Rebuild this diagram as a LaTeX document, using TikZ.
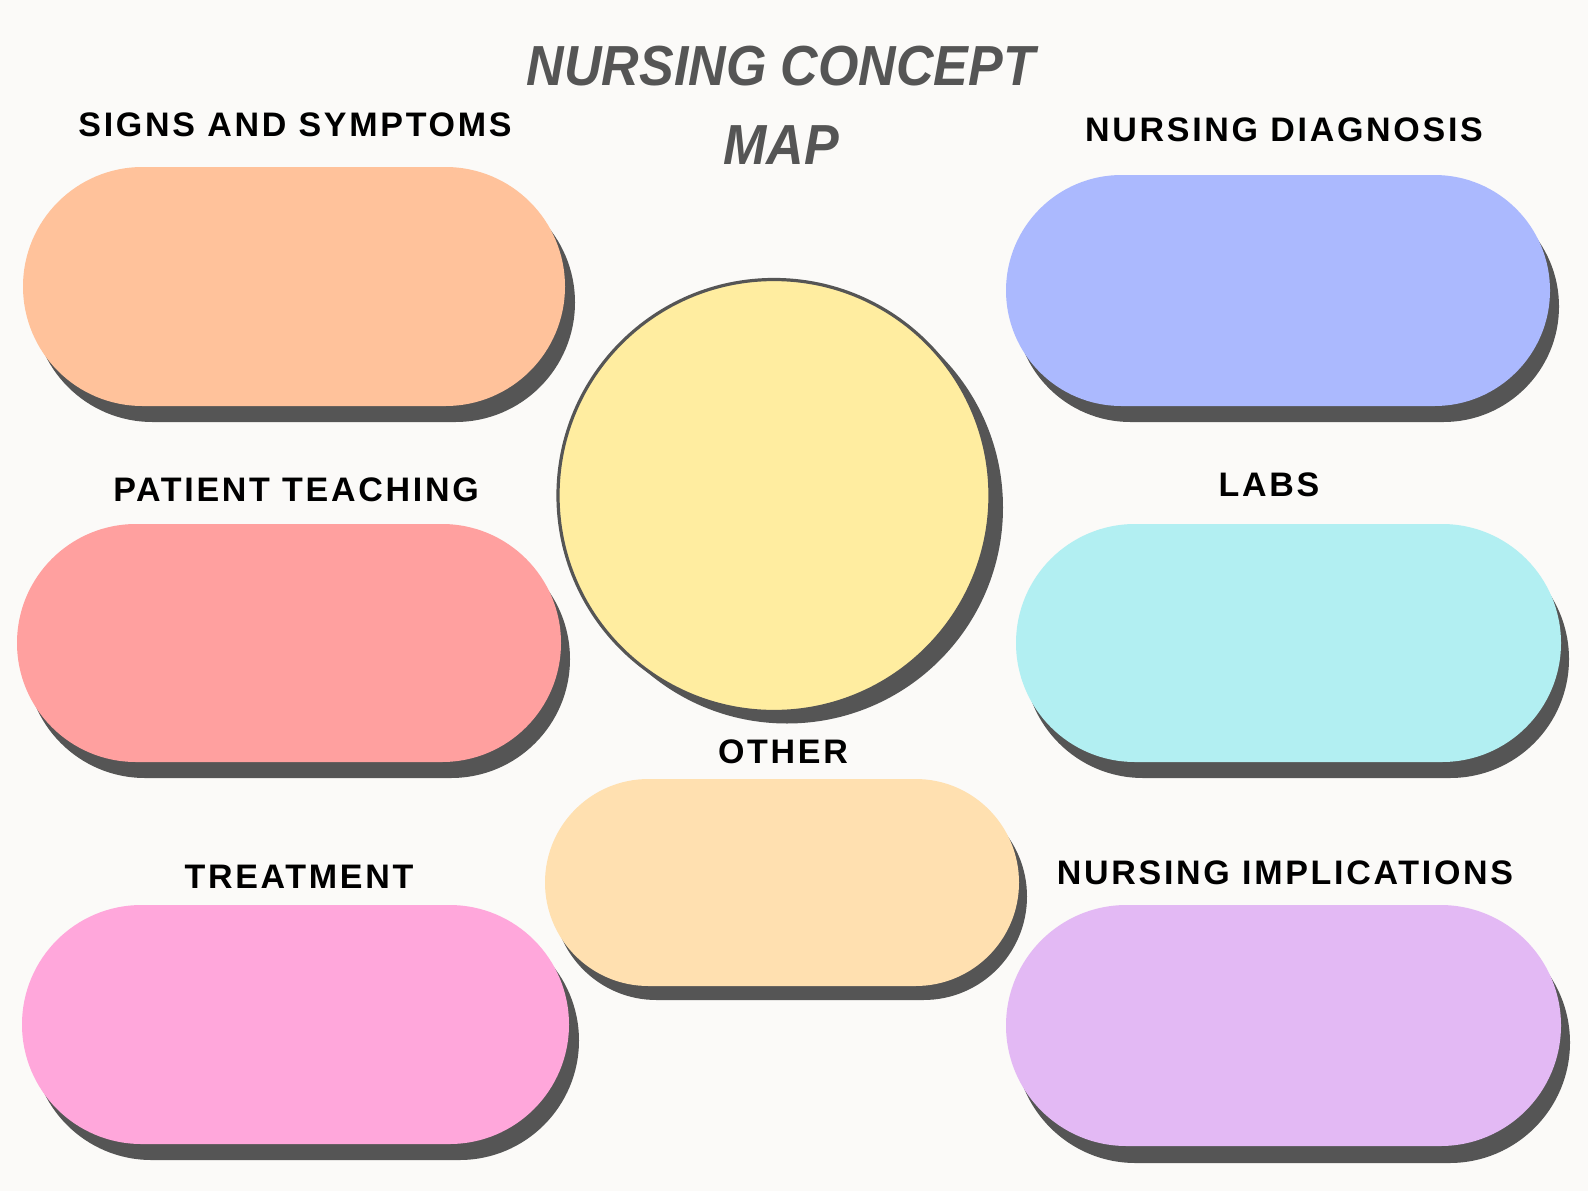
\documentclass[tikz,border=0pt]{standalone}
\usepackage{fontspec}
\setmainfont{Liberation Sans}
\newfontfamily\labelfont[LetterSpace=8.0]{Liberation Sans}
\usetikzlibrary{shapes.misc,shadows}
\definecolor{bgc}{HTML}{FBFAF8}
\definecolor{shgray}{HTML}{555555}
\definecolor{cpeach}{HTML}{FFC29B}
\definecolor{cblue}{HTML}{ABB9FE}
\definecolor{cred}{HTML}{FFA09F}
\definecolor{ccyan}{HTML}{B2EFF2}
\definecolor{cpink}{HTML}{FFA7DB}
\definecolor{cpurple}{HTML}{E3B9F4}
\definecolor{cother}{HTML}{FFE0B0}
\definecolor{cyellow}{HTML}{FFEDA0}
\tikzset{
  pill/.style={rounded rectangle, draw=none, inner sep=0pt, outer sep=0pt},
  shad/.style 2 args={drop shadow={shadow xshift=#1pt, shadow yshift=-#2pt, fill=shgray, opacity=1}},
  lbl/.style={anchor=base, inner sep=0pt, font=\labelfont\bfseries\fontsize{34}{36}\selectfont, text=black},
  ttl/.style={anchor=base, inner sep=0pt, font=\bfseries\itshape\fontsize{56.5}{60}\selectfont, text=shgray}
}
\begin{document}
\begin{tikzpicture}[x=1pt,y=-1pt]
\useasboundingbox (0,0) rectangle (1588,1191);
\fill[bgc] (0,0) rectangle (1588,1191);

% title
\node[ttl] (t1) at (781,85) {\scalebox{0.92}[1]{NURSING CONCEPT}};
\node[ttl] (t2) at (781,164) {\scalebox{0.92}[1]{MAP}};

% central circle
\node[circle, minimum size=432pt, inner sep=0pt, outer sep=0pt, fill=cyellow, draw=shgray, line width=3.2pt, shad={13}{12}] (center) at (774,495.5) {};

% boxes
\node[pill, fill=cpeach, minimum width=542pt, minimum height=239pt, shad={10}{16}] (ss) at (294,286.5) {};
\node[pill, fill=cblue, minimum width=544pt, minimum height=231pt, shad={9}{16}] (nd) at (1278,290.5) {};
\node[pill, fill=cred, minimum width=544pt, minimum height=238pt, shad={9}{16}] (pt) at (289,643) {};
\node[pill, fill=ccyan, minimum width=545pt, minimum height=238pt, shad={8}{16}] (lb) at (1288.5,643) {};
\node[pill, fill=cpink, minimum width=547pt, minimum height=239pt, shad={10}{16}] (tr) at (295.5,1024.5) {};
\node[pill, fill=cpurple, minimum width=555pt, minimum height=241pt, shad={9}{17}] (ni) at (1283.5,1025.5) {};
\node[pill, fill=cother, minimum width=474pt, minimum height=207pt, shad={8}{14}] (ot) at (782,882.5) {};

% labels
\node[lbl] (lss) at (295,136) {SIGNS AND SYMPTOMS};
\node[lbl] (lnd) at (1284,141) {NURSING DIAGNOSIS};
\node[lbl] (lpt) at (296,501) {PATIENT TEACHING};
\node[lbl] (llb) at (1269,496) {LABS};
\node[lbl] (lot) at (783,763) {OTHER};
\node[lbl] (ltr) at (299,888) {TREATMENT};
\node[lbl] (lni) at (1285,884) {NURSING IMPLICATIONS};
\end{tikzpicture}
\end{document}
